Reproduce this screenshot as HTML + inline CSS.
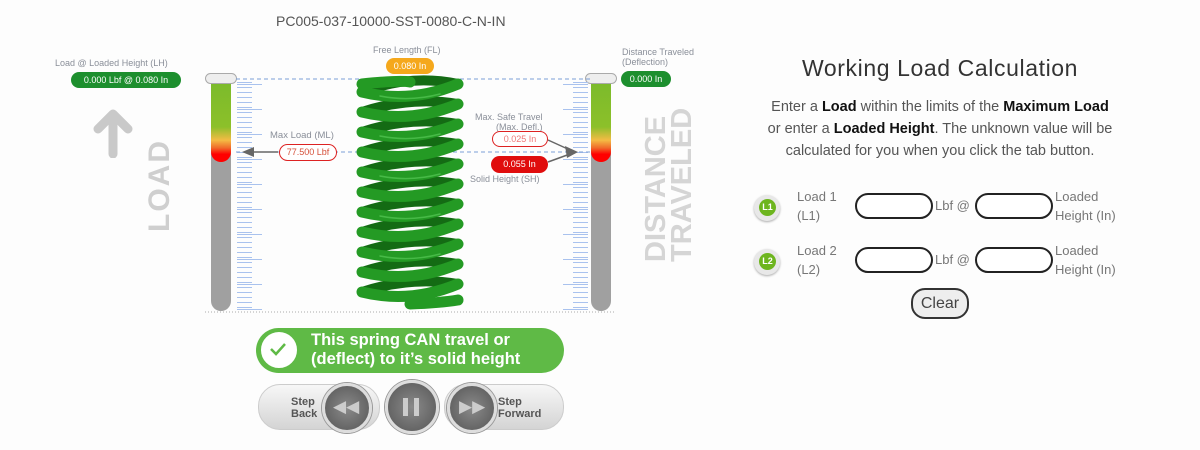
<!DOCTYPE html>
<html><head><meta charset="utf-8"><style>
body{margin:0;width:1200px;height:450px;background:#fdfdfd;font-family:"Liberation Sans",sans-serif;position:relative;overflow:hidden}
.a{position:absolute}
.pill{position:absolute;border-radius:10px;font-size:9px;text-align:center;line-height:16px}
.lbl{position:absolute;font-size:9px;color:#8a8f99;white-space:nowrap}
.ticks{position:absolute;background:
repeating-linear-gradient(to bottom,#a9c2ee 0 1px,transparent 1px 5px);}
.inp{position:absolute;width:74px;height:22px;border:2px solid #222;border-radius:14px;background:#fff}
.t{position:absolute;font-size:13px;color:#777;line-height:19px}
</style></head><body>
<div class="a" style="left:276px;top:13px;font-size:14px;color:#555">PC005-037-10000-SST-0080-C-N-IN</div>

<div class="lbl" style="left:55px;top:58px">Load @ Loaded Height (LH)</div>
<div class="pill" style="left:71px;top:72px;width:110px;background:#1d8f2e;color:#fff">0.000 Lbf @ 0.080 In</div>
<div class="lbl" style="left:373px;top:45px">Free Length (FL)</div>
<div class="pill" style="left:386px;top:58px;width:48px;background:#f5a81c;color:#fff">0.080 In</div>
<div class="lbl" style="left:622px;top:47px;line-height:10px">Distance Traveled<br>(Deflection)</div>
<div class="pill" style="left:621px;top:71px;width:50px;background:#1d8f2e;color:#fff">0.000 In</div>

<svg class="a" style="left:92px;top:108px" width="42" height="50"><path d="M21 6 V46 M6 21 L21 6 L36 21" stroke="#c9c9c9" stroke-width="9" fill="none" stroke-linecap="round" stroke-linejoin="round"/></svg>
<div class="a" style="left:143px;top:232px;transform:rotate(-90deg);transform-origin:0 0;font-size:30px;font-weight:bold;color:#cfcfcf;letter-spacing:2px;width:120px">LOAD</div>
<div class="a" style="left:643px;top:262px;transform:rotate(-90deg);transform-origin:0 0;font-size:29px;font-weight:bold;color:#d5d5d5;line-height:26px;width:160px">DISTANCE<br>TRAVELED</div>

<div class="a" style="left:211px;top:80px;width:20px;height:231px;background:#a0a0a0;border-radius:0 0 10px 10px"></div>
<div class="a" style="left:211px;top:84px;width:20px;height:78px;background:linear-gradient(#7cbb2b 0,#8cc02a 55%,#f4bb44 72%,#f06a2a 82%,#f00 90%);border-radius:0 0 10px 10px"></div>
<div class="a" style="left:205px;top:73px;width:30px;height:9px;background:#eee;border:1px solid #aaa;border-radius:6px"></div>
<div class="a" style="left:591px;top:80px;width:20px;height:231px;background:#a0a0a0;border-radius:0 0 10px 10px"></div>
<div class="a" style="left:591px;top:84px;width:20px;height:78px;background:linear-gradient(#7cbb2b 0,#8cc02a 55%,#f4bb44 72%,#f06a2a 82%,#f00 90%);border-radius:0 0 10px 10px"></div>
<div class="a" style="left:585px;top:73px;width:30px;height:9px;background:#eee;border:1px solid #aaa;border-radius:6px"></div>
<div class="ticks" style="left:237px;top:82px;width:15px;height:230px"></div>
<div class="ticks" style="left:237px;top:84px;width:25px;height:230px;background:repeating-linear-gradient(to bottom,#a9c2ee 0 1px,transparent 1px 25px)"></div>
<div class="ticks" style="left:573px;top:82px;width:15px;height:230px"></div>
<div class="ticks" style="left:563px;top:84px;width:25px;height:230px;background:repeating-linear-gradient(to bottom,#a9c2ee 0 1px,transparent 1px 25px)"></div>

<svg class="a" style="left:0;top:0" width="1200" height="450">
<line x1="236" y1="79" x2="590" y2="79" stroke="#7a9ed6" stroke-dasharray="4 3"/>
<line x1="236" y1="152" x2="590" y2="152" stroke="#7a9ed6" stroke-dasharray="4 3"/>
<line x1="205" y1="312" x2="615" y2="312" stroke="#aaa" stroke-dasharray="1 2"/>
<line x1="278" y1="152" x2="252" y2="152" stroke="#666" stroke-width="1.5"/>
<path d="M242 152 L254 147 L254 157Z" fill="#666"/>
<line x1="548" y1="140" x2="570" y2="150" stroke="#666" stroke-width="1.5"/>
<line x1="548" y1="162" x2="570" y2="154" stroke="#666" stroke-width="1.5"/>
<path d="M578 152 L565 146 L567 158Z" fill="#666"/>
<g fill="none" stroke-linecap="round">
<g stroke="#146b14" stroke-width="10">
<path d="M362 92 Q410 74 458 84"/><path d="M362 112 Q410 96 458 104"/><path d="M362 132 Q410 116 458 124"/><path d="M362 152 Q410 136 458 144"/><path d="M362 172 Q410 156 458 164"/><path d="M362 192 Q410 176 458 184"/><path d="M362 212 Q410 196 458 204"/><path d="M362 232 Q410 216 458 224"/><path d="M362 252 Q410 236 458 244"/><path d="M362 272 Q410 256 458 264"/><path d="M362 292 Q410 276 458 284"/>
</g>
<g stroke="#249a24" stroke-width="11">
<path d="M362 84 Q400 80 410 82"/>
<path d="M362 92 Q410 104 458 84"/><path d="M362 112 Q410 124 458 104"/><path d="M362 132 Q410 144 458 124"/><path d="M362 152 Q410 164 458 144"/><path d="M362 172 Q410 184 458 164"/><path d="M362 192 Q410 204 458 184"/><path d="M362 212 Q410 224 458 204"/><path d="M362 232 Q410 244 458 224"/><path d="M362 252 Q410 264 458 244"/><path d="M362 272 Q410 284 458 264"/><path d="M362 292 Q410 304 458 284"/>
<path d="M410 304 Q440 303 458 300"/>
</g>
<g stroke="#5fd05f" stroke-width="1.5" opacity=".6">
<path d="M380 96 Q410 102 440 94"/><path d="M380 136 Q410 142 440 134"/><path d="M380 176 Q410 182 440 174"/><path d="M380 216 Q410 222 440 214"/><path d="M380 256 Q410 262 440 254"/>
</g></g>
</svg>

<div class="lbl" style="left:270px;top:130px;font-size:9.5px">Max Load (ML)</div>
<div class="pill" style="left:279px;top:144px;width:56px;height:15px;line-height:15px;border:1.5px solid #d22;background:#fff;color:#d5503a">77.500 Lbf</div>
<div class="lbl" style="left:475px;top:112px;line-height:10px;text-align:right">Max. Safe Travel<br>(Max. Defl.)</div>
<div class="pill" style="left:492px;top:131px;width:54px;height:14px;line-height:14px;border:1.5px solid #d22;background:#fff;color:#e77">0.025 In</div>
<div class="pill" style="left:491px;top:156px;width:57px;height:17px;line-height:17px;background:#e00d0d;color:#fff">0.055 In</div>
<div class="lbl" style="left:470px;top:174px">Solid Height (SH)</div>

<div class="a" style="left:256px;top:328px;width:308px;height:45px;background:#5fba46;border-radius:23px"></div>
<div class="a" style="left:260px;top:331px;width:36px;height:36px;background:#fff;border-radius:50%;border:1px solid #5fba46"></div>
<svg class="a" style="left:268px;top:340px" width="20" height="18"><path d="M3 9 L8 14 L17 4" stroke="#5fba46" stroke-width="2.5" fill="none"/></svg>
<div class="a" style="left:311px;top:331px;color:#fff;font-weight:bold;font-size:16.5px;line-height:19px">This spring CAN travel or<br>(deflect) to it’s solid height</div>

<div class="a" style="left:258px;top:384px;width:120px;height:44px;border-radius:22px;background:linear-gradient(#f7f7f7,#d4d4d4);border:1px solid #ccc"></div>
<div class="a" style="left:444px;top:384px;width:118px;height:44px;border-radius:22px;background:linear-gradient(#f7f7f7,#d4d4d4);border:1px solid #ccc"></div>
<div class="a" style="left:291px;top:396px;font-size:11px;font-weight:bold;color:#555;line-height:12px">Step<br>Back</div>
<div class="a" style="left:498px;top:396px;font-size:11px;font-weight:bold;color:#555;line-height:12px">Step<br>Forward</div>
<div class="a" style="left:322px;top:383px;width:44px;height:44px;border-radius:50%;background:radial-gradient(#8a8a8a,#555);border:3px solid #ddd;box-shadow:0 0 0 1px #999"></div>
<div class="a" style="left:385px;top:380px;width:48px;height:48px;border-radius:50%;background:radial-gradient(#8a8a8a,#555);border:3px solid #ddd;box-shadow:0 0 0 1px #999"></div>
<div class="a" style="left:447px;top:383px;width:44px;height:44px;border-radius:50%;background:radial-gradient(#8a8a8a,#555);border:3px solid #ddd;box-shadow:0 0 0 1px #999"></div>
<div class="a" style="left:333px;top:397px;color:#ccc;font-size:17px">◀◀</div>
<div class="a" style="left:459px;top:397px;color:#ccc;font-size:17px">▶▶</div>
<div class="a" style="left:403px;top:398px;width:5px;height:18px;background:#ccc"></div>
<div class="a" style="left:414px;top:398px;width:5px;height:18px;background:#ccc"></div>

<div class="a" style="left:802px;top:55px;font-size:23px;color:#333;letter-spacing:0.6px">Working Load Calculation</div>
<div class="a" style="left:740px;top:96px;width:400px;text-align:center;font-size:14.5px;color:#555;line-height:22px;white-space:nowrap">Enter a <b style="color:#111">Load</b> within the limits of the <b style="color:#111">Maximum Load</b><br>or enter a <b style="color:#111">Loaded Height</b>. The unknown value will be<br>calculated for you when you click the tab button.</div>

<div class="a" style="left:754px;top:195px;width:26px;height:26px;border-radius:50%;background:#e8e8e8;box-shadow:0 1px 2px #aaa"></div>
<div class="a" style="left:759px;top:199px;width:17px;height:17px;border-radius:50%;background:#6db51e;color:#fff;font-size:9px;font-weight:bold;text-align:center;line-height:17px">L1</div>
<div class="a" style="left:754px;top:249px;width:26px;height:26px;border-radius:50%;background:#e8e8e8;box-shadow:0 1px 2px #aaa"></div>
<div class="a" style="left:759px;top:253px;width:17px;height:17px;border-radius:50%;background:#6db51e;color:#fff;font-size:9px;font-weight:bold;text-align:center;line-height:17px">L2</div>
<div class="t" style="left:797px;top:187px">Load 1<br>(L1)</div>
<div class="t" style="left:797px;top:241px">Load 2<br>(L2)</div>
<div class="inp" style="left:855px;top:193px"></div><div class="inp" style="left:975px;top:193px"></div>
<div class="inp" style="left:855px;top:247px"></div><div class="inp" style="left:975px;top:247px"></div>
<div class="t" style="left:935px;top:196px">Lbf @</div><div class="t" style="left:935px;top:250px">Lbf @</div>
<div class="t" style="left:1055px;top:187px">Loaded<br>Height (In)</div>
<div class="t" style="left:1055px;top:241px">Loaded<br>Height (In)</div>
<div class="a" style="left:911px;top:288px;width:54px;height:27px;border:2px solid #333;border-radius:14px;background:#eee;font-size:16px;color:#444;text-align:center;line-height:27px">Clear</div>
</body></html>
